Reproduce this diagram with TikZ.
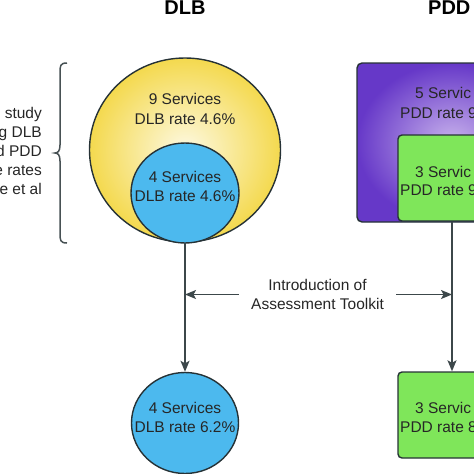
\documentclass[tikz,border=0pt]{standalone}
\usepackage{fontspec}
\setmainfont{Liberation Sans}
\usetikzlibrary{shapes.geometric,arrows.meta}
\definecolor{edge}{HTML}{263236}
\definecolor{yelo}{HTML}{F4D94E}
\definecolor{yeli}{HTML}{FDF9E2}
\definecolor{blu}{HTML}{4CB9EE}
\definecolor{purO}{HTML}{6638C8}
\definecolor{purI}{HTML}{C8B2EC}
\definecolor{grn}{HTML}{7FE65A}
\tikzset{
  lbl/.style={font=\fontsize{15.5}{19.5}\selectfont, text=black!85, inner sep=0pt, align=center},
  shp/.style={draw=edge, line width=1.4pt},
  conn/.style={draw=edge!90!white, line width=1.4pt, -{Stealth[length=11pt,width=9pt,inset=2.5pt]}},
  ttl/.style={font=\fontsize{20}{24}\selectfont\bfseries, inner sep=0pt}
}
\begin{document}
\begin{tikzpicture}[x=1pt,y=-1pt]
\useasboundingbox (0,0) rectangle (474,474);
\clip (0,0) rectangle (474,474);
% titles
\node[ttl] (tdlb) at (185,8) {DLB};
\node[ttl, anchor=west] (tpdd) at (428,8) {PDD};
% left column shapes
\node[shp, ellipse, minimum width=191pt, minimum height=184pt, inner color=yeli, outer color=yelo] (big) at (185,150) {};
\node[shp, ellipse, minimum width=108pt, minimum height=100pt, fill=blu] (inner) at (185,193) {};
\node[lbl] (bigt) at (185,109) {9 Services\\DLB rate 4.6\%};
\node[lbl] (innert) at (185,186.5) {4 Services\\DLB rate 4.6\%};
\node[shp, ellipse, minimum width=107pt, minimum height=101pt, fill=blu] (bot) at (185,423) {};
\node[lbl] (bott) at (185,417.5) {4 Services\\DLB rate 6.2\%};
% right column shapes
\node[shp, rectangle, rounded corners=5pt, minimum width=190pt, minimum height=159pt, inner color=purI, outer color=purO] (purp) at (452,142.5) {};
\node[shp, rectangle, rounded corners=4pt, minimum width=108pt, minimum height=86pt, fill=grn] (grn) at (452,178) {};
\node[shp, rectangle, rounded corners=4pt, minimum width=108pt, minimum height=86pt, fill=grn] (rbot) at (452,415) {};
\node[lbl, anchor=base west] (p1) at (415,98.5) {5 Servic};
\node[lbl, anchor=base west] (p2) at (400,118.5) {PDD rate 9};
\node[lbl, anchor=base west] (g1) at (415,177.5) {3 Servic};
\node[lbl, anchor=base west] (g2) at (400,195.5) {PDD rate 9};
\node[lbl, anchor=base west] (b1) at (415,413.5) {3 Servic};
\node[lbl, anchor=base west] (b2) at (400,432.5) {PDD rate 8};
% left text and brace
\node[lbl, align=right, anchor=east, font=\fontsize{15.5}{18.8}\selectfont] (lt) at (42,151) {study\\g DLB\\d PDD\\e rates\\e et al};
\draw[edge!85!white, line width=1.5pt] (67,63) .. controls (60,63) and (60,66) .. (60,73) -- (60,145) .. controls (60,151) and (58,153) .. (55,153) .. controls (58,153) and (60,155) .. (60,161) -- (60,233) .. controls (60,240) and (60,243) .. (67,243);
% intro text and connectors
\node[lbl, inner xsep=12pt] (intro) at (317.5,294.5) {Introduction of\\Assessment Toolkit};
\draw[conn] (big.south) -- (bot.north);
\draw[conn] (grn.south) -- (rbot.north);
\draw[conn] (intro.west) -- (intro.west -| bot.north);
\draw[conn] (intro.east) -- (intro.east -| rbot.north);
\end{tikzpicture}
\end{document}
